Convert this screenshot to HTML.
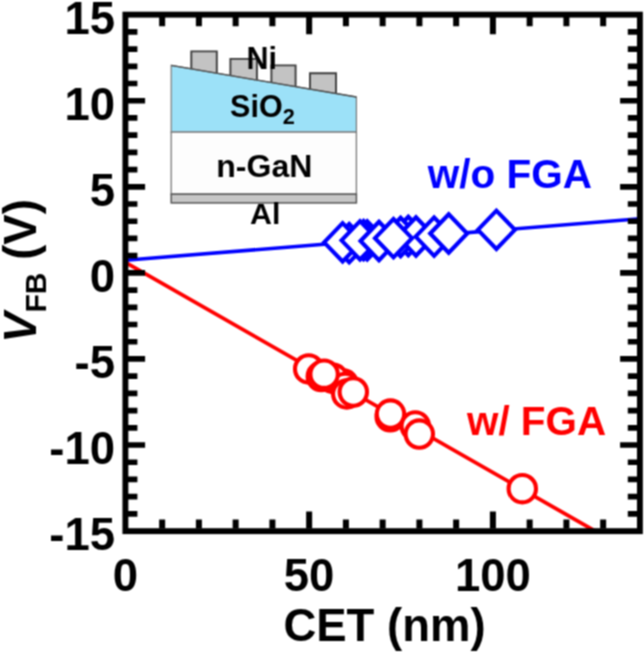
<!DOCTYPE html>
<html><head><meta charset="utf-8"><title>VFB vs CET</title>
<style>html,body{margin:0;padding:0;background:#fff;overflow:hidden}svg{display:block}text{font-family:"Liberation Sans",Arial,Helvetica,sans-serif;font-weight:bold}</style></head><body>
<svg width="644" height="652" viewBox="0 0 644 652">
<defs><filter id="soft" x="0" y="0" width="644" height="652" filterUnits="userSpaceOnUse" color-interpolation-filters="sRGB"><feConvolveMatrix order="3" kernelMatrix="1 2 1 2 4 2 1 2 1" divisor="16" edgeMode="duplicate" preserveAlpha="true"/></filter></defs>
<g filter="url(#soft)">
<rect width="644" height="652" fill="#fff"/>
<g stroke-linejoin="miter">
<polygon points="191.3,51.4 216.8,51.4 216.8,74.2 191.3,69.8" fill="#c3c3c3" stroke="#3c3c3c" stroke-width="1.9"/>
<polygon points="230.4,58.9 256.9,58.9 256.9,81.0 230.4,76.5" fill="#c3c3c3" stroke="#3c3c3c" stroke-width="1.9"/>
<polygon points="271.4,65.4 295.6,65.4 295.6,87.6 271.4,83.5" fill="#c3c3c3" stroke="#3c3c3c" stroke-width="1.9"/>
<polygon points="310.0,73.2 336.0,73.2 336.0,94.5 310.0,90.1" fill="#c3c3c3" stroke="#3c3c3c" stroke-width="1.9"/>
<polygon points="171.2,65.4 356.4,97.0 356.4,132.1 171.2,132.1" fill="#9ce1f8" stroke="#777" stroke-width="1.2"/>
<line x1="171.2" y1="65.4" x2="356.4" y2="97.0" stroke="#4a4a4a" stroke-width="1.3"/>
<rect x="171.2" y="132.1" width="185.2" height="62.1" fill="#fdfdfd" stroke="#777" stroke-width="1.3"/>
<rect x="171.2" y="194.2" width="185.2" height="8.7" fill="#c6c6c6" stroke="#555" stroke-width="1.5"/>
</g>
<text x="246.4" y="68.6" font-size="30.5">Ni</text>
<text x="230.1" y="116.6" font-size="30.5">SiO<tspan font-size="21.7" dy="7.3">2</tspan></text>
<text x="216.3" y="177.3" font-size="32">n-GaN</text>
<text x="250.1" y="223.9" font-size="30.3">Al</text>
<line x1="125.4" y1="260.2" x2="639.9" y2="218.8" stroke="#0000ff" stroke-width="3.6"/>
<line x1="125.4" y1="262.4" x2="595.3" y2="531.1" stroke="#ff0000" stroke-width="3.8"/>
<polygon points="330.7,243.2 349.2,224.0 367.7,243.2 349.2,262.4" fill="#fff" stroke="#0000ff" stroke-width="4.1"/>
<polygon points="324.1,242.3 342.6,223.1 361.1,242.3 342.6,261.5" fill="#fff" stroke="#0000ff" stroke-width="4.1"/>
<polygon points="348.7,240.3 367.2,221.1 385.7,240.3 367.2,259.5" fill="#fff" stroke="#0000ff" stroke-width="4.1"/>
<polygon points="345.1,240.2 363.6,221.0 382.1,240.2 363.6,259.4" fill="#fff" stroke="#0000ff" stroke-width="4.1"/>
<polygon points="341.5,240.3 360.0,221.1 378.5,240.3 360.0,259.5" fill="#fff" stroke="#0000ff" stroke-width="4.1"/>
<polygon points="360.5,241.0 379.0,221.8 397.5,241.0 379.0,260.2" fill="#fff" stroke="#0000ff" stroke-width="4.1"/>
<polygon points="389.8,236.0 408.3,216.8 426.8,236.0 408.3,255.2" fill="#fff" stroke="#0000ff" stroke-width="4.1"/>
<polygon points="382.1,237.0 400.6,217.8 419.1,237.0 400.6,256.2" fill="#fff" stroke="#0000ff" stroke-width="4.1"/>
<polygon points="397.5,236.5 416.0,217.3 434.5,236.5 416.0,255.7" fill="#fff" stroke="#0000ff" stroke-width="4.1"/>
<polygon points="375.0,238.2 393.5,219.0 412.0,238.2 393.5,257.4" fill="#fff" stroke="#0000ff" stroke-width="4.1"/>
<polygon points="415.6,236.6 434.1,217.4 452.6,236.6 434.1,255.8" fill="#fff" stroke="#0000ff" stroke-width="4.1"/>
<polygon points="430.2,233.5 448.7,214.3 467.2,233.5 448.7,252.7" fill="#fff" stroke="#0000ff" stroke-width="4.1"/>
<polygon points="477.9,229.8 496.4,210.6 514.9,229.8 496.4,249.0" fill="#fff" stroke="#0000ff" stroke-width="4.1"/>
<circle cx="343.5" cy="384.1" r="13.7" fill="#fff" stroke="#ff0000" stroke-width="4.1"/>
<circle cx="333.2" cy="378.3" r="13.7" fill="#fff" stroke="#ff0000" stroke-width="4.1"/>
<circle cx="345.2" cy="387.4" r="13.7" fill="#fff" stroke="#ff0000" stroke-width="4.1"/>
<circle cx="346.8" cy="393.9" r="13.7" fill="#fff" stroke="#ff0000" stroke-width="4.1"/>
<circle cx="353.3" cy="392.0" r="13.7" fill="#fff" stroke="#ff0000" stroke-width="4.1"/>
<circle cx="308.7" cy="368.9" r="13.7" fill="#fff" stroke="#ff0000" stroke-width="4.1"/>
<circle cx="321.3" cy="376.5" r="13.7" fill="#fff" stroke="#ff0000" stroke-width="4.1"/>
<circle cx="324.1" cy="374.2" r="13.7" fill="#fff" stroke="#ff0000" stroke-width="4.1"/>
<circle cx="390.2" cy="416.8" r="13.7" fill="#fff" stroke="#ff0000" stroke-width="4.1"/>
<circle cx="390.5" cy="414.1" r="13.7" fill="#fff" stroke="#ff0000" stroke-width="4.1"/>
<circle cx="415.3" cy="426.0" r="13.7" fill="#fff" stroke="#ff0000" stroke-width="4.1"/>
<circle cx="419.3" cy="434.1" r="13.7" fill="#fff" stroke="#ff0000" stroke-width="4.1"/>
<circle cx="522.3" cy="488.7" r="13.7" fill="#fff" stroke="#ff0000" stroke-width="4.1"/>
<text x="427.8" y="187.5" font-size="40.5" fill="#0000ff">w/o FGA</text>
<text x="467" y="435.3" font-size="40.4" fill="#ff0000">w/ FGA</text>
<g stroke="#000" fill="none">
<rect x="125.4" y="14.65" width="514.5" height="516.5" stroke-width="5.9"/>
<path d="M127.8,31.87h9.6M637.4,31.87h-9.6M127.8,49.08h9.6M637.4,49.08h-9.6M127.8,66.30h9.6M637.4,66.30h-9.6M127.8,83.51h9.6M637.4,83.51h-9.6M127.8,100.73h17.3M637.4,100.73h-17.3M127.8,117.94h9.6M637.4,117.94h-9.6M127.8,135.16h9.6M637.4,135.16h-9.6M127.8,152.37h9.6M637.4,152.37h-9.6M127.8,169.59h9.6M637.4,169.59h-9.6M127.8,186.80h17.3M637.4,186.80h-17.3M127.8,204.02h9.6M637.4,204.02h-9.6M127.8,221.23h9.6M637.4,221.23h-9.6M127.8,238.44h9.6M637.4,238.44h-9.6M127.8,255.66h9.6M637.4,255.66h-9.6M127.8,272.88h17.3M637.4,272.88h-17.3M127.8,290.09h9.6M637.4,290.09h-9.6M127.8,307.30h9.6M637.4,307.30h-9.6M127.8,324.52h9.6M637.4,324.52h-9.6M127.8,341.73h9.6M637.4,341.73h-9.6M127.8,358.95h17.3M637.4,358.95h-17.3M127.8,376.16h9.6M637.4,376.16h-9.6M127.8,393.38h9.6M637.4,393.38h-9.6M127.8,410.59h9.6M637.4,410.59h-9.6M127.8,427.81h9.6M637.4,427.81h-9.6M127.8,445.02h17.3M637.4,445.02h-17.3M127.8,462.24h9.6M637.4,462.24h-9.6M127.8,479.45h9.6M637.4,479.45h-9.6M127.8,496.67h9.6M637.4,496.67h-9.6M127.8,513.88h9.6M637.4,513.88h-9.6" stroke-width="5.7"/>
<path d="M162.15,17.1v9.1M162.15,528.6v-9.1M198.90,17.1v9.1M198.90,528.6v-9.1M235.65,17.1v9.1M235.65,528.6v-9.1M272.40,17.1v9.1M272.40,528.6v-9.1M309.15,17.1v17.2M309.15,528.6v-17.2M345.90,17.1v9.1M345.90,528.6v-9.1M382.65,17.1v9.1M382.65,528.6v-9.1M419.40,17.1v9.1M419.40,528.6v-9.1M456.15,17.1v9.1M456.15,528.6v-9.1M492.90,17.1v17.2M492.90,528.6v-17.2M529.65,17.1v9.1M529.65,528.6v-9.1M566.40,17.1v9.1M566.40,528.6v-9.1M603.15,17.1v9.1M603.15,528.6v-9.1" stroke-width="6.0"/>
</g>
<text x="115" y="33.6" font-size="45.5" text-anchor="end">15</text>
<text x="115" y="119.7" font-size="45.5" text-anchor="end">10</text>
<text x="115" y="205.8" font-size="45.5" text-anchor="end">5</text>
<text x="115" y="291.9" font-size="45.5" text-anchor="end">0</text>
<text x="115" y="377.9" font-size="45.5" text-anchor="end">-5</text>
<text x="115" y="464.0" font-size="45.5" text-anchor="end">-10</text>
<text x="115" y="550.1" font-size="45.5" text-anchor="end">-15</text>
<text x="125.4" y="590.7" font-size="45.5" text-anchor="middle">0</text>
<text x="309.1" y="590.7" font-size="45.5" text-anchor="middle">50</text>
<text x="492.9" y="590.7" font-size="45.5" text-anchor="middle">100</text>
<text x="384.5" y="640.8" font-size="45.5" text-anchor="middle">CET (nm)</text>
<text transform="translate(35.9,271) rotate(-90)" font-size="45.5" text-anchor="middle"><tspan font-style="italic">V</tspan><tspan font-size="30" dy="9.8">FB</tspan><tspan dy="-9.8"> (V)</tspan></text>
</g></svg></body></html>
